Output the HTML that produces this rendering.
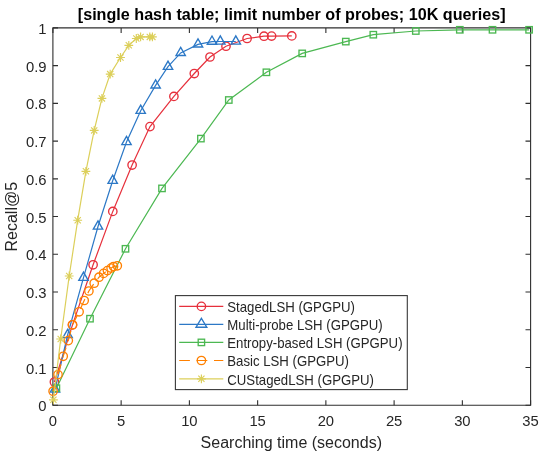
<!DOCTYPE html><html><head><meta charset="utf-8"><style>html,body{margin:0;padding:0;background:#fff;}svg{display:block;}text{font-family:"Liberation Sans",Arial,sans-serif;fill:#262626;}</style></head><body>
<svg width="550" height="458" viewBox="0 0 550 458">
<rect width="550" height="458" fill="#fff"/>
<path d="M52.35 405.25H531.15M52.35 27.90H531.15M52.90 405.80V27.35M530.60 405.80V27.35" fill="none" stroke="#2f2f2f" stroke-width="1.1"/>
<path d="M52.90 405.25V400.15M52.90 27.90V33.00M121.14 405.25V400.15M121.14 27.90V33.00M189.39 405.25V400.15M189.39 27.90V33.00M257.63 405.25V400.15M257.63 27.90V33.00M325.87 405.25V400.15M325.87 27.90V33.00M394.11 405.25V400.15M394.11 27.90V33.00M462.36 405.25V400.15M462.36 27.90V33.00M530.60 405.25V400.15M530.60 27.90V33.00M52.90 405.25H58.00M530.60 405.25H525.50M52.90 367.51H58.00M530.60 367.51H525.50M52.90 329.78H58.00M530.60 329.78H525.50M52.90 292.05H58.00M530.60 292.05H525.50M52.90 254.31H58.00M530.60 254.31H525.50M52.90 216.57H58.00M530.60 216.57H525.50M52.90 178.84H58.00M530.60 178.84H525.50M52.90 141.11H58.00M530.60 141.11H525.50M52.90 103.37H58.00M530.60 103.37H525.50M52.90 65.63H58.00M530.60 65.63H525.50M52.90 27.90H58.00M530.60 27.90H525.50" stroke="#2f2f2f" stroke-width="1.1" fill="none"/>
<polyline points="54.4,382.0 72.5,324.9 93.1,264.8 112.8,211.4 132.1,165.0 150.0,126.6 173.9,96.4 194.3,73.5 210.0,57.0 226.0,46.2 247.1,38.5 264.0,36.2 271.6,36.1 291.8,35.9" fill="none" stroke="#e6303c" stroke-width="1.2"/>
<g><circle cx="54.4" cy="382.0" r="4.2" fill="none" stroke="#e6303c" stroke-width="1.35"/><circle cx="72.5" cy="324.9" r="4.2" fill="none" stroke="#e6303c" stroke-width="1.35"/><circle cx="93.1" cy="264.8" r="4.2" fill="none" stroke="#e6303c" stroke-width="1.35"/><circle cx="112.8" cy="211.4" r="4.2" fill="none" stroke="#e6303c" stroke-width="1.35"/><circle cx="132.1" cy="165.0" r="4.2" fill="none" stroke="#e6303c" stroke-width="1.35"/><circle cx="150.0" cy="126.6" r="4.2" fill="none" stroke="#e6303c" stroke-width="1.35"/><circle cx="173.9" cy="96.4" r="4.2" fill="none" stroke="#e6303c" stroke-width="1.35"/><circle cx="194.3" cy="73.5" r="4.2" fill="none" stroke="#e6303c" stroke-width="1.35"/><circle cx="210.0" cy="57.0" r="4.2" fill="none" stroke="#e6303c" stroke-width="1.35"/><circle cx="226.0" cy="46.2" r="4.2" fill="none" stroke="#e6303c" stroke-width="1.35"/><circle cx="247.1" cy="38.5" r="4.2" fill="none" stroke="#e6303c" stroke-width="1.35"/><circle cx="264.0" cy="36.2" r="4.2" fill="none" stroke="#e6303c" stroke-width="1.35"/><circle cx="271.6" cy="36.1" r="4.2" fill="none" stroke="#e6303c" stroke-width="1.35"/><circle cx="291.8" cy="35.9" r="4.2" fill="none" stroke="#e6303c" stroke-width="1.35"/></g>
<polyline points="55.0,389.5 67.6,335.0 83.5,277.7 98.0,226.5 112.7,180.8 126.5,142.0 140.7,110.7 155.6,85.4 168.0,66.7 180.7,52.9 198.0,44.4 212.0,41.6 220.3,41.5 235.8,41.5" fill="none" stroke="#2c78c6" stroke-width="1.2"/>
<g><polygon points="55.0,383.9 59.7,392.1 50.3,392.1" fill="none" stroke="#2c78c6" stroke-width="1.35" stroke-linejoin="miter"/><polygon points="67.6,329.4 72.3,337.6 62.9,337.6" fill="none" stroke="#2c78c6" stroke-width="1.35" stroke-linejoin="miter"/><polygon points="83.5,272.1 88.2,280.3 78.8,280.3" fill="none" stroke="#2c78c6" stroke-width="1.35" stroke-linejoin="miter"/><polygon points="98.0,220.9 102.7,229.1 93.3,229.1" fill="none" stroke="#2c78c6" stroke-width="1.35" stroke-linejoin="miter"/><polygon points="112.7,175.2 117.4,183.4 108.0,183.4" fill="none" stroke="#2c78c6" stroke-width="1.35" stroke-linejoin="miter"/><polygon points="126.5,136.4 131.2,144.6 121.8,144.6" fill="none" stroke="#2c78c6" stroke-width="1.35" stroke-linejoin="miter"/><polygon points="140.7,105.1 145.4,113.3 136.0,113.3" fill="none" stroke="#2c78c6" stroke-width="1.35" stroke-linejoin="miter"/><polygon points="155.6,79.8 160.3,88.0 150.9,88.0" fill="none" stroke="#2c78c6" stroke-width="1.35" stroke-linejoin="miter"/><polygon points="168.0,61.1 172.7,69.3 163.3,69.3" fill="none" stroke="#2c78c6" stroke-width="1.35" stroke-linejoin="miter"/><polygon points="180.7,47.3 185.4,55.5 176.0,55.5" fill="none" stroke="#2c78c6" stroke-width="1.35" stroke-linejoin="miter"/><polygon points="198.0,38.8 202.7,47.0 193.3,47.0" fill="none" stroke="#2c78c6" stroke-width="1.35" stroke-linejoin="miter"/><polygon points="212.0,36.0 216.7,44.2 207.3,44.2" fill="none" stroke="#2c78c6" stroke-width="1.35" stroke-linejoin="miter"/><polygon points="220.3,35.9 225.0,44.1 215.6,44.1" fill="none" stroke="#2c78c6" stroke-width="1.35" stroke-linejoin="miter"/><polygon points="235.8,35.9 240.5,44.1 231.1,44.1" fill="none" stroke="#2c78c6" stroke-width="1.35" stroke-linejoin="miter"/></g>
<polyline points="56.4,388.2 90.0,318.7 125.5,248.8 162.0,188.4 200.9,138.6 228.8,100.0 266.4,72.3 302.2,53.4 345.8,41.6 373.3,34.7 415.8,31.0 459.8,29.8 492.5,29.8 529.1,29.8" fill="none" stroke="#4cb852" stroke-width="1.2"/>
<g><rect x="53.2" y="385.0" width="6.4" height="6.4" fill="none" stroke="#4cb852" stroke-width="1.35"/><rect x="86.8" y="315.5" width="6.4" height="6.4" fill="none" stroke="#4cb852" stroke-width="1.35"/><rect x="122.3" y="245.6" width="6.4" height="6.4" fill="none" stroke="#4cb852" stroke-width="1.35"/><rect x="158.8" y="185.2" width="6.4" height="6.4" fill="none" stroke="#4cb852" stroke-width="1.35"/><rect x="197.7" y="135.4" width="6.4" height="6.4" fill="none" stroke="#4cb852" stroke-width="1.35"/><rect x="225.6" y="96.8" width="6.4" height="6.4" fill="none" stroke="#4cb852" stroke-width="1.35"/><rect x="263.2" y="69.1" width="6.4" height="6.4" fill="none" stroke="#4cb852" stroke-width="1.35"/><rect x="299.0" y="50.2" width="6.4" height="6.4" fill="none" stroke="#4cb852" stroke-width="1.35"/><rect x="342.6" y="38.4" width="6.4" height="6.4" fill="none" stroke="#4cb852" stroke-width="1.35"/><rect x="370.1" y="31.5" width="6.4" height="6.4" fill="none" stroke="#4cb852" stroke-width="1.35"/><rect x="412.6" y="27.8" width="6.4" height="6.4" fill="none" stroke="#4cb852" stroke-width="1.35"/><rect x="456.6" y="26.6" width="6.4" height="6.4" fill="none" stroke="#4cb852" stroke-width="1.35"/><rect x="489.3" y="26.6" width="6.4" height="6.4" fill="none" stroke="#4cb852" stroke-width="1.35"/><rect x="525.9" y="26.6" width="6.4" height="6.4" fill="none" stroke="#4cb852" stroke-width="1.35"/></g>
<polyline points="53.1,391.2 58.0,374.6 63.2,356.3 68.3,340.6 72.5,324.8 79.1,311.8 84.2,300.5 88.9,291.0 94.2,283.2 99.0,277.2 103.6,273.4 107.4,270.6 111.1,268.1 113.5,266.5 117.3,265.8" fill="none" stroke="#ff8000" stroke-width="1.2" stroke-dasharray="10.7,6.7"/>
<g><circle cx="53.1" cy="391.2" r="4.2" fill="none" stroke="#ff8000" stroke-width="1.35"/><circle cx="58.0" cy="374.6" r="4.2" fill="none" stroke="#ff8000" stroke-width="1.35"/><circle cx="63.2" cy="356.3" r="4.2" fill="none" stroke="#ff8000" stroke-width="1.35"/><circle cx="68.3" cy="340.6" r="4.2" fill="none" stroke="#ff8000" stroke-width="1.35"/><circle cx="72.5" cy="324.8" r="4.2" fill="none" stroke="#ff8000" stroke-width="1.35"/><circle cx="79.1" cy="311.8" r="4.2" fill="none" stroke="#ff8000" stroke-width="1.35"/><circle cx="84.2" cy="300.5" r="4.2" fill="none" stroke="#ff8000" stroke-width="1.35"/><circle cx="88.9" cy="291.0" r="4.2" fill="none" stroke="#ff8000" stroke-width="1.35"/><circle cx="94.2" cy="283.2" r="4.2" fill="none" stroke="#ff8000" stroke-width="1.35"/><circle cx="99.0" cy="277.2" r="4.2" fill="none" stroke="#ff8000" stroke-width="1.35"/><circle cx="103.6" cy="273.4" r="4.2" fill="none" stroke="#ff8000" stroke-width="1.35"/><circle cx="107.4" cy="270.6" r="4.2" fill="none" stroke="#ff8000" stroke-width="1.35"/><circle cx="111.1" cy="268.1" r="4.2" fill="none" stroke="#ff8000" stroke-width="1.35"/><circle cx="113.5" cy="266.5" r="4.2" fill="none" stroke="#ff8000" stroke-width="1.35"/><circle cx="117.3" cy="265.8" r="4.2" fill="none" stroke="#ff8000" stroke-width="1.35"/></g>
<polyline points="53.4,399.8 60.7,339.0 69.2,276.0 77.7,220.2 85.9,171.3 94.2,130.4 101.9,98.4 110.2,74.1 120.5,57.5 128.8,45.3 136.3,38.5 140.6,36.9 149.8,36.9 152.4,36.9" fill="none" stroke="#dccf5a" stroke-width="1.2"/>
<g><path d="M49.0 399.8H57.8M53.4 395.4V404.2M50.3 396.7L56.5 402.9M50.3 402.9L56.5 396.7" stroke="#dccf5a" stroke-width="1.15" fill="none"/><path d="M56.3 339.0H65.1M60.7 334.6V343.4M57.6 335.9L63.8 342.1M57.6 342.1L63.8 335.9" stroke="#dccf5a" stroke-width="1.15" fill="none"/><path d="M64.8 276.0H73.6M69.2 271.6V280.4M66.1 272.9L72.3 279.1M66.1 279.1L72.3 272.9" stroke="#dccf5a" stroke-width="1.15" fill="none"/><path d="M73.3 220.2H82.1M77.7 215.8V224.6M74.6 217.1L80.8 223.3M74.6 223.3L80.8 217.1" stroke="#dccf5a" stroke-width="1.15" fill="none"/><path d="M81.5 171.3H90.3M85.9 166.9V175.7M82.8 168.2L89.0 174.4M82.8 174.4L89.0 168.2" stroke="#dccf5a" stroke-width="1.15" fill="none"/><path d="M89.8 130.4H98.6M94.2 126.0V134.8M91.1 127.3L97.3 133.5M91.1 133.5L97.3 127.3" stroke="#dccf5a" stroke-width="1.15" fill="none"/><path d="M97.5 98.4H106.3M101.9 94.0V102.8M98.8 95.3L105.0 101.5M98.8 101.5L105.0 95.3" stroke="#dccf5a" stroke-width="1.15" fill="none"/><path d="M105.8 74.1H114.6M110.2 69.7V78.5M107.1 71.0L113.3 77.2M107.1 77.2L113.3 71.0" stroke="#dccf5a" stroke-width="1.15" fill="none"/><path d="M116.1 57.5H124.9M120.5 53.1V61.9M117.4 54.4L123.6 60.6M117.4 60.6L123.6 54.4" stroke="#dccf5a" stroke-width="1.15" fill="none"/><path d="M124.4 45.3H133.2M128.8 40.9V49.7M125.7 42.2L131.9 48.4M125.7 48.4L131.9 42.2" stroke="#dccf5a" stroke-width="1.15" fill="none"/><path d="M131.9 38.5H140.7M136.3 34.1V42.9M133.2 35.4L139.4 41.6M133.2 41.6L139.4 35.4" stroke="#dccf5a" stroke-width="1.15" fill="none"/><path d="M136.2 36.9H145.0M140.6 32.5V41.3M137.5 33.8L143.7 40.0M137.5 40.0L143.7 33.8" stroke="#dccf5a" stroke-width="1.15" fill="none"/><path d="M145.4 36.9H154.2M149.8 32.5V41.3M146.7 33.8L152.9 40.0M146.7 40.0L152.9 33.8" stroke="#dccf5a" stroke-width="1.15" fill="none"/><path d="M148.0 36.9H156.8M152.4 32.5V41.3M149.3 33.8L155.5 40.0M149.3 40.0L155.5 33.8" stroke="#dccf5a" stroke-width="1.15" fill="none"/></g>
<text x="52.90" y="426.2" text-anchor="middle" font-size="14.8">0</text><text x="121.14" y="426.2" text-anchor="middle" font-size="14.8">5</text><text x="189.39" y="426.2" text-anchor="middle" font-size="14.8">10</text><text x="257.63" y="426.2" text-anchor="middle" font-size="14.8">15</text><text x="325.87" y="426.2" text-anchor="middle" font-size="14.8">20</text><text x="394.11" y="426.2" text-anchor="middle" font-size="14.8">25</text><text x="462.36" y="426.2" text-anchor="middle" font-size="14.8">30</text><text x="530.60" y="426.2" text-anchor="middle" font-size="14.8">35</text><text x="46.6" y="411.25" text-anchor="end" font-size="14.8">0</text><text x="46.6" y="373.51" text-anchor="end" font-size="14.8">0.1</text><text x="46.6" y="335.78" text-anchor="end" font-size="14.8">0.2</text><text x="46.6" y="298.05" text-anchor="end" font-size="14.8">0.3</text><text x="46.6" y="260.31" text-anchor="end" font-size="14.8">0.4</text><text x="46.6" y="222.57" text-anchor="end" font-size="14.8">0.5</text><text x="46.6" y="184.84" text-anchor="end" font-size="14.8">0.6</text><text x="46.6" y="147.11" text-anchor="end" font-size="14.8">0.7</text><text x="46.6" y="109.37" text-anchor="end" font-size="14.8">0.8</text><text x="46.6" y="71.63" text-anchor="end" font-size="14.8">0.9</text><text x="46.6" y="33.90" text-anchor="end" font-size="14.8">1</text>
<text x="291.7" y="20.2" text-anchor="middle" font-size="16.15" font-weight="bold" fill="#000" style="fill:#000">[single hash table; limit number of probes; 10K queries]</text>
<text x="291.3" y="447.8" text-anchor="middle" font-size="16">Searching time (seconds)</text>
<text transform="translate(17.3,216.7) rotate(-90)" text-anchor="middle" font-size="16">Recall@5</text>
<rect x="175.4" y="295.6" width="231.9" height="94.0" fill="#fff" stroke="#383838" stroke-width="1.1"/>
<line x1="179.2" y1="306.4" x2="223.3" y2="306.4" stroke="#e6303c" stroke-width="1.2"/>
<circle cx="201.4" cy="306.4" r="4.2" fill="none" stroke="#e6303c" stroke-width="1.35"/>
<text transform="translate(227.3,312.1) scale(1,1.06)" font-size="13.2">StagedLSH (GPGPU)</text>
<line x1="179.2" y1="324.4" x2="223.3" y2="324.4" stroke="#2c78c6" stroke-width="1.2"/>
<polygon points="201.4,318.4 206.8,327.2 196.0,327.2" fill="none" stroke="#2c78c6" stroke-width="1.35" stroke-linejoin="miter"/>
<text transform="translate(227.3,330.1) scale(1,1.06)" font-size="13.2">Multi-probe LSH (GPGPU)</text>
<line x1="179.2" y1="342.4" x2="223.3" y2="342.4" stroke="#4cb852" stroke-width="1.2"/>
<rect x="198.2" y="339.2" width="6.4" height="6.4" fill="none" stroke="#4cb852" stroke-width="1.35"/>
<text transform="translate(227.3,348.1) scale(1,1.06)" font-size="13.2">Entropy-based LSH (GPGPU)</text>
<line x1="179.2" y1="360.5" x2="223.3" y2="360.5" stroke="#ff8000" stroke-width="1.2" stroke-dasharray="10.7,6.7"/>
<circle cx="201.4" cy="360.5" r="4.2" fill="none" stroke="#ff8000" stroke-width="1.35"/>
<text transform="translate(227.3,366.2) scale(1,1.06)" font-size="13.2">Basic LSH (GPGPU)</text>
<line x1="179.2" y1="378.8" x2="223.3" y2="378.8" stroke="#dccf5a" stroke-width="1.2"/>
<path d="M197.0 378.8H205.8M201.4 374.4V383.2M198.3 375.7L204.5 381.9M198.3 381.9L204.5 375.7" stroke="#dccf5a" stroke-width="1.15" fill="none"/>
<text transform="translate(227.3,384.5) scale(1,1.06)" font-size="13.2">CUStagedLSH (GPGPU)</text>
</svg></body></html>
